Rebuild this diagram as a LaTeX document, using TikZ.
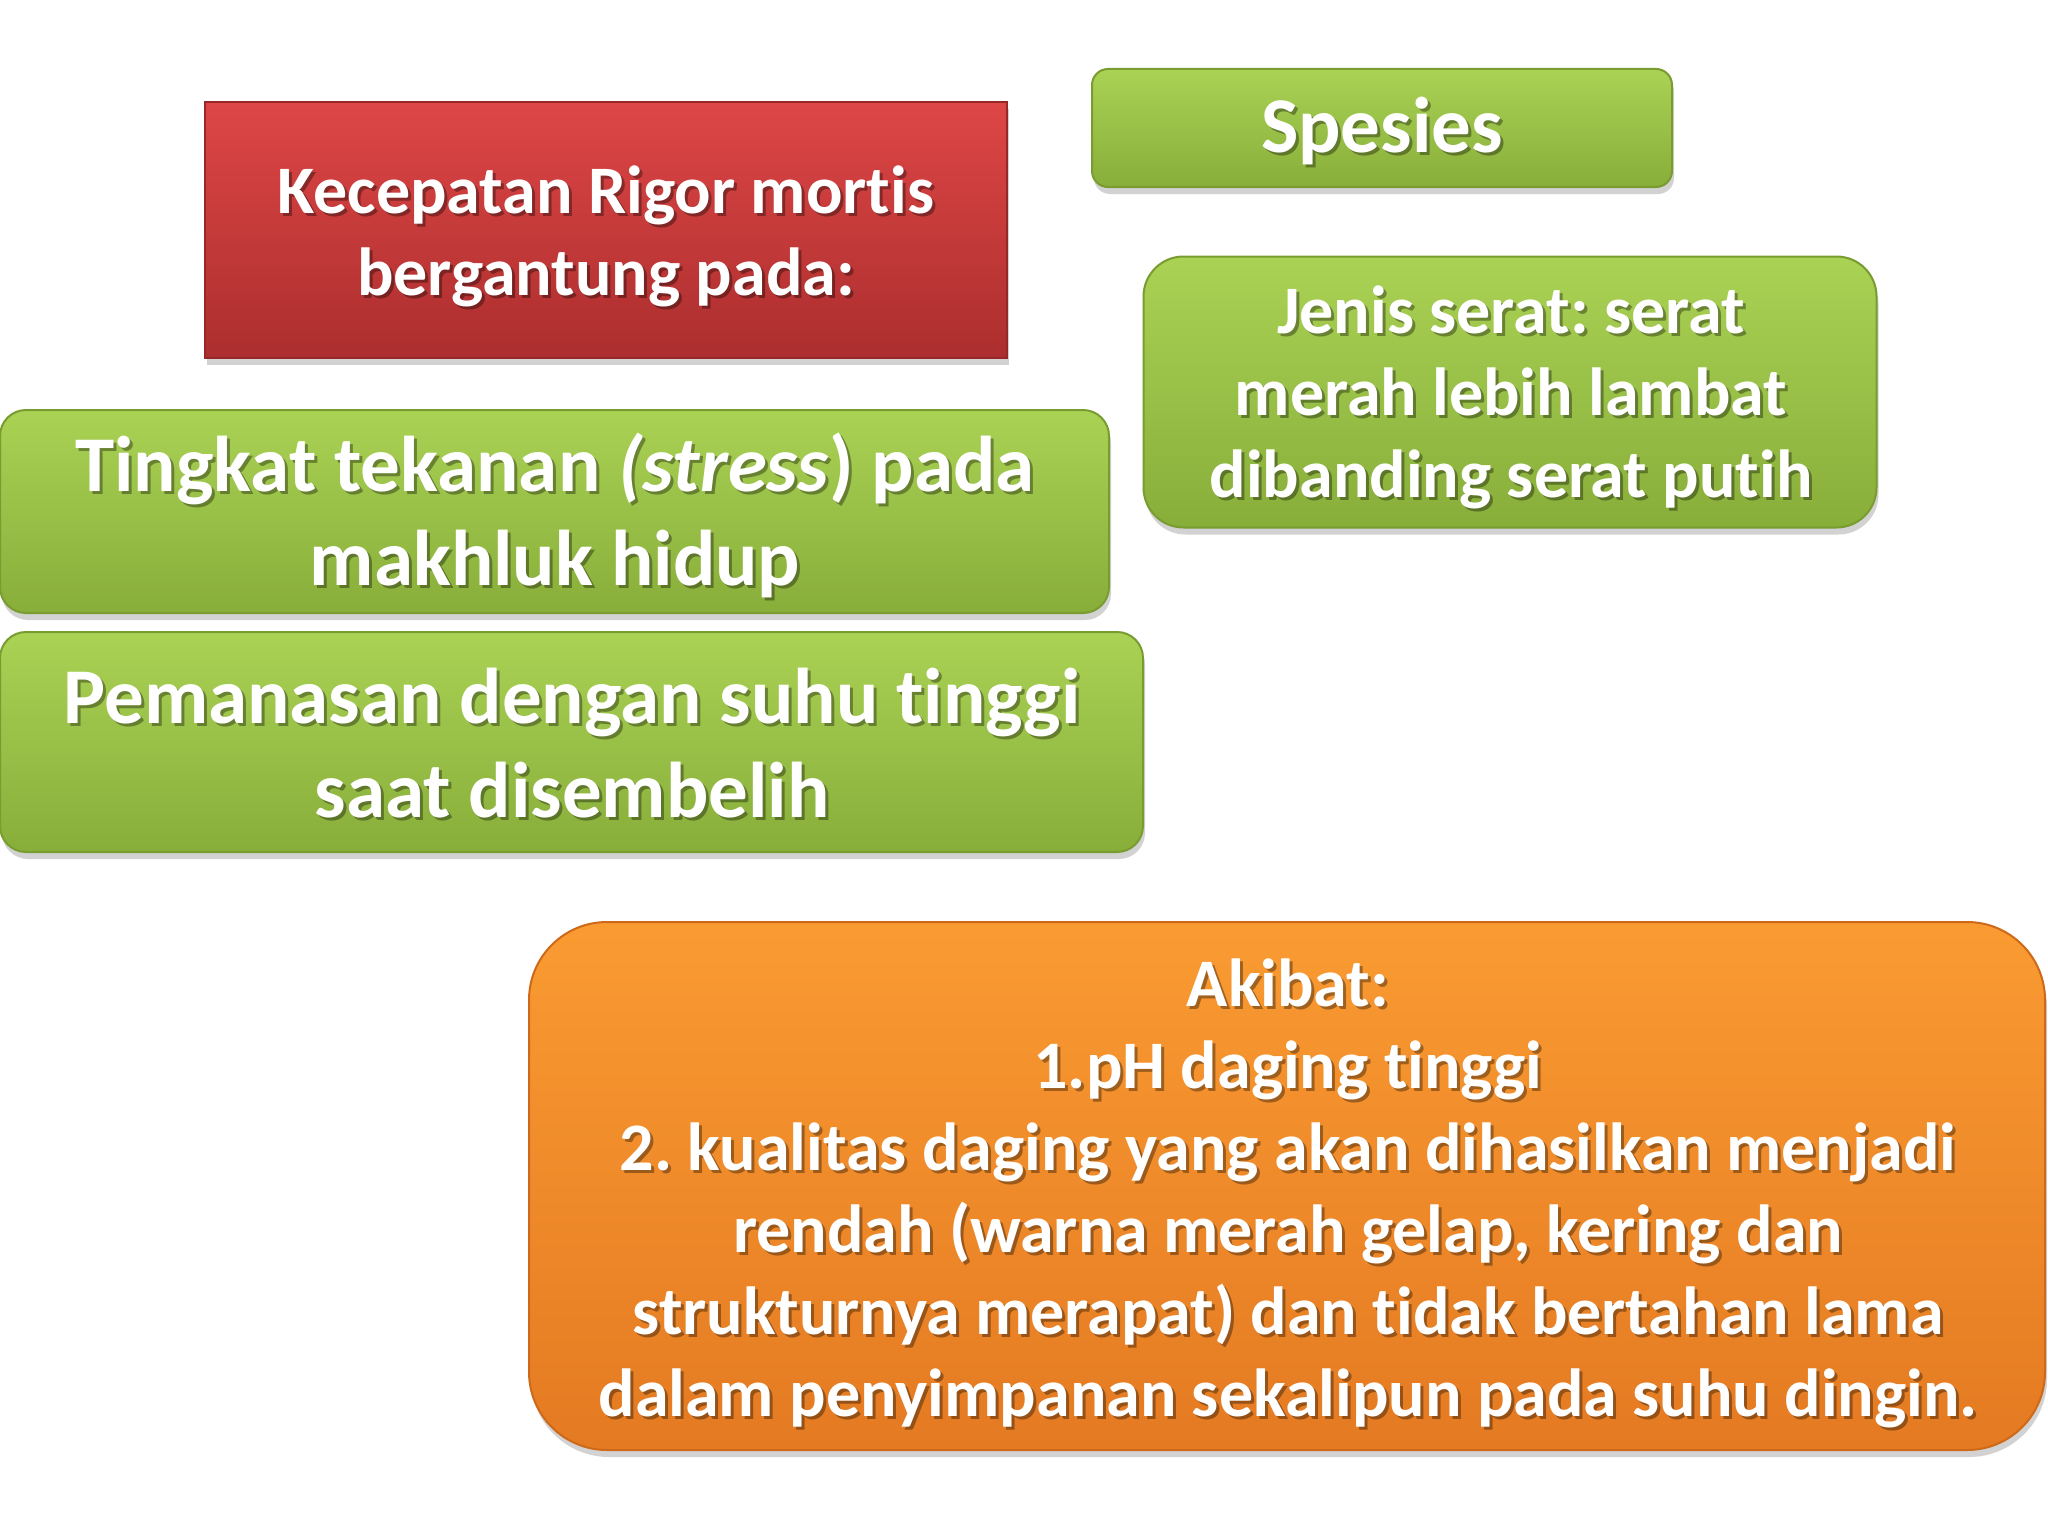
\documentclass[tikz,border=0pt]{standalone}
\usepackage{fontspec}
\setmainfont{Carlito}[Ligatures=NoCommon]
\frenchspacing
\usetikzlibrary{shadows}
\definecolor{gtop}{RGB}{170,210,84}
\definecolor{gbot}{RGB}{136,174,58}
\definecolor{gline}{RGB}{120,156,48}
\definecolor{rtop}{RGB}{222,70,70}
\definecolor{rbot}{RGB}{172,46,46}
\definecolor{rline}{RGB}{150,40,40}
\definecolor{otop}{RGB}{250,155,50}
\definecolor{obot}{RGB}{228,122,34}
\definecolor{oline}{RGB}{205,105,25}
\tikzset{
  boxbase/.style={draw, line width=2pt, inner sep=0pt,
    drop shadow={shadow xshift=2pt, shadow yshift=-7pt, opacity=0.25, fill=black!70}},
  greenbox/.style={boxbase, draw=gline, top color=gtop, bottom color=gbot, rounded corners=26pt},
  redbox/.style={boxbase, draw=rline, top color=rtop, bottom color=rbot},
  orangebox/.style={boxbase, draw=oline, top color=otop, bottom color=obot, rounded corners=78pt},
  txt/.style={text=white, align=center, inner sep=0pt},
  txtsh/.style={text=black, opacity=0.35, align=center, inner sep=0pt},
  fa/.style={font=\bfseries\fontsize{68}{82}\selectfont},
  fb/.style={font=\bfseries\fontsize{79}{95}\selectfont},
  fc/.style={font=\bfseries\fontsize{79}{94}\selectfont},
}
\begin{document}
\begin{tikzpicture}[x=1pt,y=-1pt]
\fill[white] (0,0) rectangle (2048,1536);
\useasboundingbox (0,0) rectangle (2048,1536);

% red box
\node[redbox, minimum width=802pt, minimum height=256pt] (red) at (606,230) {};
\node[txtsh, fa] (red-s) at (609,239) {Kecepatan Rigor mortis\\bergantung pada:};
\node[txt, fa] (red-t) at (606,236) {Kecepatan Rigor mortis\\bergantung pada:};

% Spesies
\node[greenbox, rounded corners=16pt, minimum width=580pt, minimum height=118pt] (sp) at (1382,128) {};
\node[txtsh, fb] (sp-s) at (1385,134) {Spesies};
\node[txt, fb] (sp-t) at (1382,131) {Spesies};

% Jenis serat
\node[greenbox, rounded corners=40pt, minimum width=733pt, minimum height=271pt] (js) at (1510,392) {};
\node[txtsh, fa] (js-s) at (1514,400) {Jenis serat: serat\\merah lebih lambat\\dibanding serat putih};
\node[txt, fa] (js-t) at (1511,397) {Jenis serat: serat\\merah lebih lambat\\dibanding serat putih};

% Tingkat tekanan
\node[greenbox, minimum width=1109pt, minimum height=203pt] (tk) at (554.5,511.5) {};
\node[txtsh, fc] (tk-s) at (558,518) {Tingkat tekanan \textit{(stress}) pada\\makhluk hidup};
\node[txt, fc] (tk-t) at (555,515) {Tingkat tekanan \textit{(stress}) pada\\makhluk hidup};

% Pemanasan
\node[greenbox, minimum width=1143pt, minimum height=220pt] (pm) at (571.5,742) {};
\node[txtsh, fc] (pm-s) at (575,746) {Pemanasan dengan suhu tinggi\\saat disembelih};
\node[txt, fc] (pm-t) at (572,743) {Pemanasan dengan suhu tinggi\\saat disembelih};

% Akibat
\node[orangebox, minimum width=1516pt, minimum height=528pt] (ak) at (1287,1186) {};
\node[txtsh, fa] (ak-s) at (1291,1196) {Akibat:\\1.pH daging tinggi\\2. kualitas daging yang akan dihasilkan menjadi\\rendah (warna merah gelap, kering dan\\strukturnya merapat) dan tidak bertahan lama\\dalam penyimpanan sekalipun pada suhu dingin.};
\node[txt, fa] (ak-t) at (1288,1193) {Akibat:\\1.pH daging tinggi\\2. kualitas daging yang akan dihasilkan menjadi\\rendah (warna merah gelap, kering dan\\strukturnya merapat) dan tidak bertahan lama\\dalam penyimpanan sekalipun pada suhu dingin.};
\end{tikzpicture}
\end{document}
